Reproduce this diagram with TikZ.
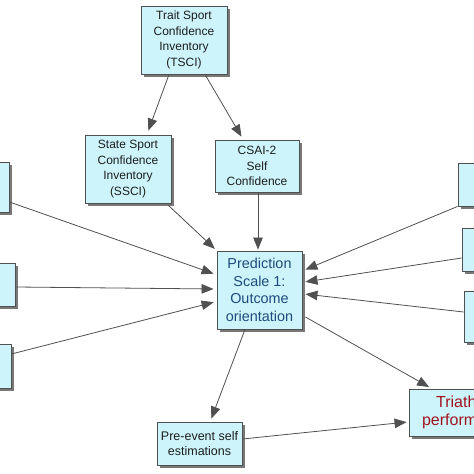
\documentclass[tikz,border=0pt]{standalone}
\usepackage{fontspec}
\setmainfont{Liberation Sans}
\usetikzlibrary{arrows.meta,shadows}
\definecolor{boxfill}{RGB}{204,244,250}
\definecolor{boxline}{RGB}{80,80,80}
\definecolor{shade}{RGB}{120,120,120}
\definecolor{arr}{RGB}{80,80,80}
\definecolor{predblue}{RGB}{30,75,125}
\definecolor{trired}{RGB}{160,20,30}
\definecolor{txt}{RGB}{30,30,30}
\tikzset{
  box/.style={draw=boxline, line width=0.9pt, fill=boxfill, inner sep=0pt, align=center,
    text=txt, font=\fontsize{12}{15.5}\selectfont,
    drop shadow={shadow xshift=3pt, shadow yshift=-3pt, fill=shade, opacity=1}},
  conn/.style={draw=arr, line width=0.8pt, -{Triangle[length=12pt,width=9.5pt]}, shorten >=1pt}
}
\begin{document}
\begin{tikzpicture}[x=1pt,y=1pt]
\useasboundingbox (0,0) rectangle (474,474);
\fill[white] (0,0) rectangle (474,474);
\clip (0,0) rectangle (474,474);

\node[box, minimum width=86pt, minimum height=68pt] (tsci) at (184,434) {Trait Sport\\Confidence\\Inventory\\(TSCI)};
\node[box, minimum width=86pt, minimum height=68pt] (ssci) at (128,305) {State Sport\\Confidence\\Inventory\\(SSCI)};
\node[box, minimum width=84pt, minimum height=52pt] (csai) at (257,308) {CSAI-2\\Self\\Confidence};
\node[box, minimum width=85pt, minimum height=78pt, text=predblue, font=\fontsize{14.4}{17.5}\selectfont] (pred) at (259.5,184) {Prediction\\Scale 1:\\Outcome\\orientation};
\node[box, minimum width=85pt, minimum height=43pt, font=\fontsize{12.5}{15}\selectfont] (pre) at (199.5,30.5) {Pre-event self\\estimations};
\node[box, minimum width=116pt, minimum height=47pt, text=trired, font=\fontsize{16}{17.5}\selectfont] (tri) at (467,61.5) {Triathlon\\performance};

\node[box, minimum width=86pt, minimum height=50pt] (l1) at (-34,287) {};
\node[box, minimum width=86pt, minimum height=43pt] (l2) at (-28,189.5) {};
\node[box, minimum width=86pt, minimum height=44pt] (l3) at (-32,108) {};
\node[box, minimum width=86pt, minimum height=43pt] (r1) at (501,289.5) {};
\node[box, minimum width=86pt, minimum height=43pt] (r2) at (505,224.5) {};
\node[box, minimum width=86pt, minimum height=51pt] (r3) at (507,157.5) {};

\draw[conn] ([xshift=-15pt]tsci.south) -- ([xshift=20pt,yshift=3pt]ssci.north);
\draw[conn] ([xshift=21pt]tsci.south) -- ([xshift=-15pt,yshift=2pt]csai.north);
\draw[conn] ([xshift=-3pt,yshift=-2pt]ssci.south east) -- ([xshift=-1pt,yshift=1pt]pred.north west);
\draw[conn] ([xshift=1pt]csai.south) -- ([xshift=-1.5pt]pred.north);
\draw[conn] ([yshift=-15pt]l1.east) -- ([xshift=-2pt,yshift=16pt]pred.west);
\draw[conn] ([yshift=-2.5pt]l2.east) -- ([xshift=-2pt,yshift=1pt]pred.west);
\draw[conn] ([yshift=12pt]l3.east) -- ([xshift=-2pt,yshift=-12pt]pred.west);
\draw[conn] (r1.south west) -- ([xshift=2pt,yshift=20pt]pred.east);
\draw[conn] ([yshift=-8.5pt]r2.west) -- ([xshift=2pt,yshift=8pt]pred.east);
\draw[conn] ([yshift=4.5pt]r3.west) -- ([xshift=2pt,yshift=-4pt]pred.east);
\draw[conn] ([xshift=3pt,yshift=-27pt]pred.east) -- ([xshift=-37pt,yshift=1pt]tri.north);
\draw[conn] ([xshift=-14.5pt]pred.south) -- ([xshift=11.5pt,yshift=2pt]pre.north);
\draw[conn] ([yshift=4.5pt]pre.east) -- ([xshift=-1pt,yshift=-9.5pt]tri.west);
\end{tikzpicture}
\end{document}
